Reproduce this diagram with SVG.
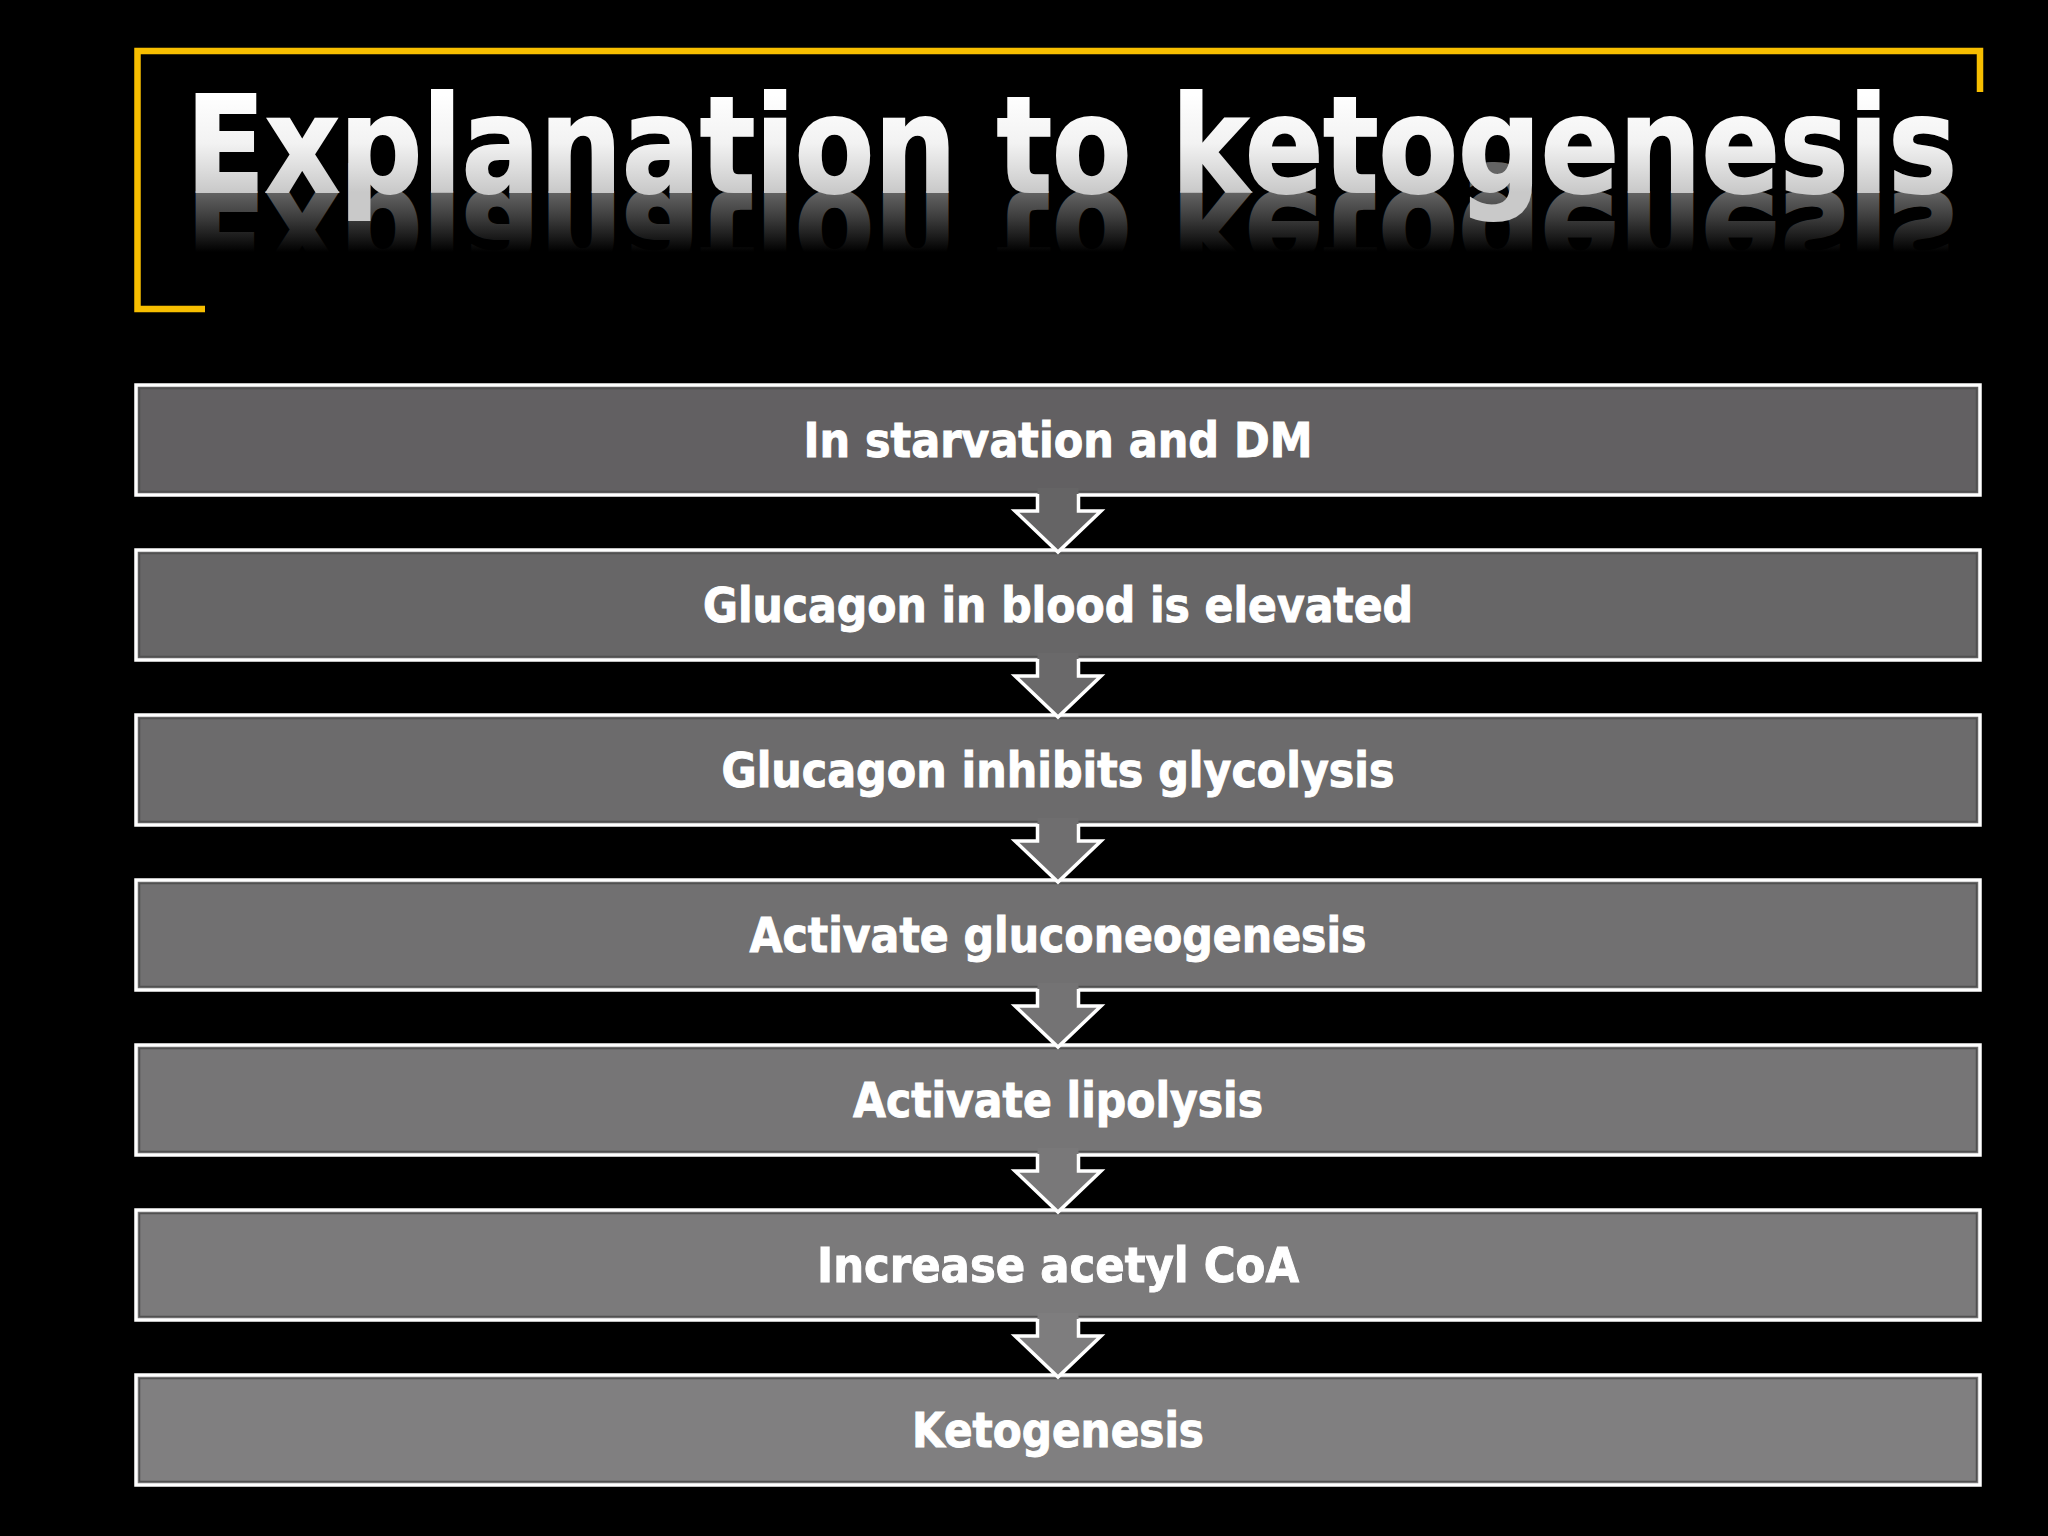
<svg xmlns="http://www.w3.org/2000/svg" xmlns:xlink="http://www.w3.org/1999/xlink" width="2048" height="1536" viewBox="0 0 2048 1536">
<style>
.box{stroke:#ffffff;stroke-width:3.5}
.inner{fill:none;stroke:#505050;stroke-width:1.5}
.lbl{font-family:"DejaVu Sans Condensed","DejaVu Sans",sans-serif;font-weight:bold;font-stretch:condensed;font-size:48px;fill:#ffffff;stroke:#ffffff;stroke-width:0.9;text-anchor:middle}
.arrowline{fill:none;stroke:#ffffff;stroke-width:3.5;stroke-linejoin:miter}
</style>
<defs>
<linearGradient id="tg" gradientUnits="userSpaceOnUse" x1="0" y1="95" x2="0" y2="192">
<stop offset="0" stop-color="#ffffff"/>
<stop offset="0.5" stop-color="#f2f2f2"/>
<stop offset="1" stop-color="#c9c9c9"/>
</linearGradient>
<linearGradient id="rg" gradientUnits="userSpaceOnUse" x1="0" y1="192" x2="0" y2="132">
<stop offset="0" stop-color="#646464"/>
<stop offset="0.45" stop-color="#3a3a3a"/>
<stop offset="1" stop-color="#000000"/>
</linearGradient>
<text id="titletext" x="186" y="192" textLength="1771" lengthAdjust="spacingAndGlyphs" font-family="DejaVu Sans Condensed, DejaVu Sans, sans-serif" font-weight="bold" font-size="133" stroke-width="2">Explanation to ketogenesis</text>
</defs>
<rect width="2048" height="1536" fill="#000000"/>
<g id="title">
<path d="M205 309 H137.5 V51 H1980 V92" fill="none" stroke="#f7be00" stroke-width="6.5"/>
<use xlink:href="#titletext" fill="url(#rg)" stroke="url(#rg)" transform="translate(0,384) scale(1,-1)"/>
<use xlink:href="#titletext" fill="url(#tg)" stroke="url(#tg)"/>
</g>
<g id="node1"><rect class="box" x="136" y="385" width="1844" height="110" fill="#626062"/><rect class="inner" x="139.5" y="388.5" width="1837" height="103"/><text class="lbl" x="1058" y="457" textLength="509" lengthAdjust="spacingAndGlyphs">In starvation and DM</text></g>
<g id="node2"><rect class="box" x="136" y="550" width="1844" height="110" fill="#676667"/><rect class="inner" x="139.5" y="553.5" width="1837" height="103"/><text class="lbl" x="1058" y="622" textLength="710" lengthAdjust="spacingAndGlyphs">Glucagon in blood is elevated</text></g>
<g id="node3"><rect class="box" x="136" y="715" width="1844" height="110" fill="#6c6b6c"/><rect class="inner" x="139.5" y="718.5" width="1837" height="103"/><text class="lbl" x="1058" y="787" textLength="673" lengthAdjust="spacingAndGlyphs">Glucagon inhibits glycolysis</text></g>
<g id="node4"><rect class="box" x="136" y="880" width="1844" height="110" fill="#717071"/><rect class="inner" x="139.5" y="883.5" width="1837" height="103"/><text class="lbl" x="1058" y="952" textLength="617" lengthAdjust="spacingAndGlyphs">Activate gluconeogenesis</text></g>
<g id="node5"><rect class="box" x="136" y="1045" width="1844" height="110" fill="#767576"/><rect class="inner" x="139.5" y="1048.5" width="1837" height="103"/><text class="lbl" x="1058" y="1117" textLength="410" lengthAdjust="spacingAndGlyphs">Activate lipolysis</text></g>
<g id="node6"><rect class="box" x="136" y="1210" width="1844" height="110" fill="#7b7a7b"/><rect class="inner" x="139.5" y="1213.5" width="1837" height="103"/><text class="lbl" x="1058" y="1282" textLength="482" lengthAdjust="spacingAndGlyphs">Increase acetyl CoA</text></g>
<g id="node7"><rect class="box" x="136" y="1375" width="1844" height="110" fill="#807f80"/><rect class="inner" x="139.5" y="1378.5" width="1837" height="103"/><text class="lbl" x="1058" y="1447" textLength="292" lengthAdjust="spacingAndGlyphs">Ketogenesis</text></g>
<g id="connectors">
<g transform="translate(0,0)"><polygon points="1037.5,488 1037.5,511 1015,511 1058,552 1101,511 1078.5,511 1078.5,488" fill="#656465"/><polyline class="arrowline" points="1037.5,494 1037.5,511 1015,511 1058,552 1101,511 1078.5,511 1078.5,494"/></g>
<g transform="translate(0,165)"><polygon points="1037.5,488 1037.5,511 1015,511 1058,552 1101,511 1078.5,511 1078.5,488" fill="#6a696a"/><polyline class="arrowline" points="1037.5,494 1037.5,511 1015,511 1058,552 1101,511 1078.5,511 1078.5,494"/></g>
<g transform="translate(0,330)"><polygon points="1037.5,488 1037.5,511 1015,511 1058,552 1101,511 1078.5,511 1078.5,488" fill="#6f6e6f"/><polyline class="arrowline" points="1037.5,494 1037.5,511 1015,511 1058,552 1101,511 1078.5,511 1078.5,494"/></g>
<g transform="translate(0,495)"><polygon points="1037.5,488 1037.5,511 1015,511 1058,552 1101,511 1078.5,511 1078.5,488" fill="#747374"/><polyline class="arrowline" points="1037.5,494 1037.5,511 1015,511 1058,552 1101,511 1078.5,511 1078.5,494"/></g>
<g transform="translate(0,660)"><polygon points="1037.5,488 1037.5,511 1015,511 1058,552 1101,511 1078.5,511 1078.5,488" fill="#797879"/><polyline class="arrowline" points="1037.5,494 1037.5,511 1015,511 1058,552 1101,511 1078.5,511 1078.5,494"/></g>
<g transform="translate(0,825)"><polygon points="1037.5,488 1037.5,511 1015,511 1058,552 1101,511 1078.5,511 1078.5,488" fill="#7e7d7e"/><polyline class="arrowline" points="1037.5,494 1037.5,511 1015,511 1058,552 1101,511 1078.5,511 1078.5,494"/></g>
</g>
</svg>
